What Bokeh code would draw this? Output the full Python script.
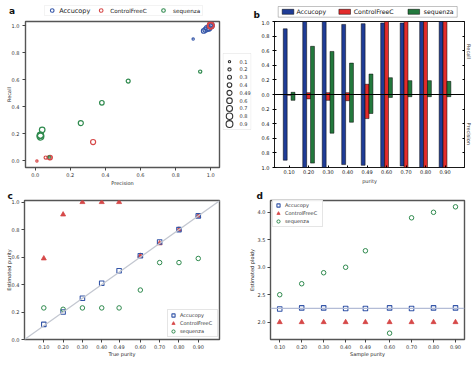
import math
from bokeh.plotting import figure
from bokeh.layouts import row, column
from bokeh.models import (ColumnDataSource, Range1d, FixedTicker, NumeralTickFormatter,
                          CustomJSTickFormatter, Legend, LegendItem, Label, Span, Slope,
                          LinearAxis, BoxAnnotation, Title)
from bokeh.embed import file_html
from bokeh.resources import INLINE
from bokeh.core.properties import value

# ---------------- data ----------------
purity = [0.10, 0.20, 0.30, 0.40, 0.49, 0.60, 0.70, 0.80, 0.90]
purity_labels = ["0.10", "0.20", "0.30", "0.40", "0.49", "0.60", "0.70", "0.80", "0.90"]
methods = ["Accucopy", "ControlFreeC", "sequenza"]

acc_recall = [0.90, 1.00, 1.00, 0.96, 0.97, 0.98, 0.98, 1.00, 1.00]
acc_precision = [0.90, 1.00, 1.00, 0.96, 0.97, 0.99, 0.98, 1.00, 1.00]
cfc_recall = [0.00, 0.025, 0.025, 0.025, 0.14, 1.00, 1.00, 1.00, 1.00]
cfc_precision = [0.01, 0.06, 0.08, 0.085, 0.33, 1.00, 1.00, 1.00, 1.00]
seq_recall = [0.03, 0.66, 0.59, 0.43, 0.28, 0.23, 0.19, 0.19, 0.18]
seq_precision = [0.08, 0.94, 0.53, 0.38, 0.26, 0.04, 0.03, 0.03, 0.03]

acc_est_purity = [0.11, 0.20, 0.30, 0.41, 0.50, 0.61, 0.71, 0.80, 0.90]
cfc_est_purity = [0.59, 0.91, 1.00, 1.00, 1.00, 0.61, 0.70, 0.80, 0.90]
seq_est_purity = [0.23, 0.22, 0.23, 0.23, 0.23, 0.36, 0.56, 0.56, 0.59]

acc_ploidy = [2.24, 2.26, 2.26, 2.25, 2.25, 2.26, 2.25, 2.26, 2.26]
cfc_ploidy = [2.0, 2.0, 2.0, 2.0, 2.0, 2.0, 2.0, 2.0, 2.0]
seq_ploidy = [2.50, 2.70, 2.90, 3.00, 3.30, 1.80, 3.90, 4.00, 4.10]
true_ploidy = 2.25

a_ticks = [0.0, 0.2, 0.4, 0.6, 0.8, 1.0]
b_yticks = [-1.0, -0.8, -0.6, -0.4, -0.2, 0.0, 0.2, 0.4, 0.6, 0.8, 1.0]
c_yticks = [0.0, 0.2, 0.4, 0.6, 0.8, 1.0]
d_yticks = [2.0, 2.5, 3.0, 3.5, 4.0]

# ---------------- style ----------------
FONT = "DejaVu Sans"
BLUE, RED, GREEN = "#3556a8", "#d64848", "#2f8a4e"
BAR_COLORS = ["#1f3c96", "#e32b2b", "#23793d"]
TICK_FS = "5px"
SIZE_K = 7.2
marker_size = [SIZE_K * math.sqrt(v) for v in purity]
NB = "\u00a0"

# legend layout in the top strip (pixels)
LEG_A_BOX = (44, 202, 5, 15)
LEG_A_KEY_X = [51.7, 100.7, 163.0]
LEG_A_TXT_X = [58.7, 109.7, 172.5]
LEG_A_Y = 10
LEG_A_FS = ["6.5px", "5.7px", "5.7px"]
LEG_B_BOX = (277.7, 456.7, 6, 16.7)
LEG_B_KEY_X = [287.5, 344.2, 413.3]
LEG_B_TXT_X = [296.0, 353.3, 423.3]
LEG_B_Y = 11.3


def base_fig(w, h, xr, yr, l, r, t, b, **kw):
    p = figure(width=w, height=h, x_range=xr, y_range=yr, title=None,
               output_backend="svg", toolbar_location=None, min_border=0,
               min_border_left=l, min_border_right=r, min_border_top=t, min_border_bottom=b, **kw)
    p.xgrid.visible = False
    p.ygrid.visible = False
    return p


def style_axes(p, color="#444"):
    for ax in p.axis:
        ax.axis_line_color = None
        ax.major_tick_line_color = color
        ax.major_tick_out = 3
        ax.major_tick_in = 0
        ax.minor_tick_line_color = None
        ax.major_label_text_font = FONT
        ax.major_label_text_font_size = TICK_FS
        ax.major_label_text_color = "#333"
        ax.major_label_standoff = 2
        ax.axis_label_text_font = FONT
        ax.axis_label_text_font_size = "5px"
        ax.axis_label_text_font_style = "normal"
        ax.axis_label_text_color = "#222"
    p.outline_line_color = "#555"
    p.outline_line_width = 1.4


def letter(p, text, x, y):
    p.add_layout(Label(x=x, y=y, text=text, text_font=FONT, text_font_size="9px",
                       text_font_style="bold", text_color="#111",
                       text_align="left", text_baseline="alphabetic"))


def letter_title(p, text, offset):
    p.add_layout(Title(text=text, align="left", offset=offset, standoff=0,
                       text_font=FONT, text_font_size="9px", text_font_style="bold",
                       text_color="#111"), "above")


# ---------------- top strip: panel letters a, b and top legends ----------------
st = base_fig(474, 20, Range1d(0, 474), Range1d(20, 0), 0, 0, 0, 0,
              x_axis_type=None, y_axis_type=None)
st.outline_line_color = None
letter(st, "a", 8.5, 10.8)
letter(st, "b", 253, 14)
for (l, r, t, b), col in [(LEG_A_BOX, "#cccccc"), (LEG_B_BOX, "black")]:
    st.add_layout(BoxAnnotation(left=l, right=r, top=t, bottom=b, fill_color=None,
                                line_color=col, line_width=0.8))
st.scatter(x=LEG_A_KEY_X, y=LEG_A_Y, size=3.6, marker="circle", fill_color=None,
           line_color=[BLUE, RED, GREEN], line_width=1.1)
st.text(x=LEG_A_TXT_X, y=LEG_A_Y, text=methods, text_font=value(FONT), text_font_size=LEG_A_FS,
        text_baseline="middle", text_align="left", text_color="#222")
st.rect(x=LEG_B_KEY_X, y=LEG_B_Y, width=11.6, height=5, fill_color=BAR_COLORS,
        line_color="black", line_width=0.5)
st.text(x=LEG_B_TXT_X, y=LEG_B_Y, text=methods, text_font=value(FONT), text_font_size="6.2px",
        text_baseline="middle", text_align="left", text_color="#111")

# ---------------- panel a ----------------
pa = base_fig(221, 168, Range1d(-0.055, 1.05), Range1d(-0.048, 1.03), 25, 2, 1, 18)
style_axes(pa)
pa.xaxis.ticker = FixedTicker(ticks=a_ticks)
pa.yaxis.ticker = FixedTicker(ticks=a_ticks)
pa.xaxis.formatter = NumeralTickFormatter(format="0.0")
pa.yaxis.formatter = NumeralTickFormatter(format="0.0")
pa.yaxis.major_label_standoff = 3
pa.yaxis.axis_label = "Recall"
pa.yaxis.axis_label_standoff = -3
pa.xaxis.axis_label = "Precision"
pa.xaxis.axis_label_standoff = 0

for name, prec, rec, col in zip(methods, [acc_precision, cfc_precision, seq_precision],
                                 [acc_recall, cfc_recall, seq_recall], [BLUE, RED, GREEN]):
    src = ColumnDataSource(dict(x=prec, y=rec, s=marker_size))
    pa.scatter(x="x", y="y", size="s", source=src, marker="circle",
               fill_color=None, line_color=col, line_width=1.2)

# ---------------- size legend for panel a ----------------
pl = base_fig(31, 168, Range1d(0, 29), Range1d(13.57, -5.15), 1, 1, 1, 18,
              x_axis_type=None, y_axis_type=None)
pl.outline_line_color = None
pl.add_layout(BoxAnnotation(left=0.5, right=28.5, top=114, bottom=38,
                            left_units="screen", right_units="screen",
                            top_units="screen", bottom_units="screen",
                            fill_color=None, line_color="#bbbbbb", line_width=0.8))
size_src = ColumnDataSource(dict(idx=list(range(len(purity))), s=marker_size,
                                 lab=[f"{v:g}" for v in purity]))
pl.scatter(x=7, y="idx", size="s", source=size_src, marker="circle",
           fill_color=None, line_color="#333", line_width=1.1)
pl.text(x=17, y="idx", text="lab", source=size_src, text_font=value(FONT),
        text_font_size="5px", text_baseline="middle", text_align="left", text_color="#333")

# ---------------- panel b ----------------
x_idx = list(range(len(purity)))
bar_w = 0.2
pb = base_fig(222, 168, Range1d(-0.75, 9.0), Range1d(-1, 1), 22, 9, 1, 18)
for k, (name, rec, prec, col) in enumerate(zip(methods, [acc_recall, cfc_recall, seq_recall],
                                               [acc_precision, cfc_precision, seq_precision],
                                               BAR_COLORS)):
    off = (k - 1) * bar_w
    src = ColumnDataSource(dict(x=[i + off for i in x_idx], top=rec, bottom=[-v for v in prec]))
    pb.vbar(x="x", width=bar_w, top="top", bottom="bottom", source=src,
            fill_color=col, line_color="black", line_width=0.5)
pb.add_layout(Span(location=0, dimension="width", line_color="black", line_width=1))

right_ax = LinearAxis(ticker=FixedTicker(ticks=b_yticks),
                      formatter=CustomJSTickFormatter(code="return '';"),
                      major_tick_in=2, major_tick_out=0, major_label_standoff=0,
                      axis_label="Recall" + NB * 40 + "Precision",
                      axis_label_standoff=1)
pb.add_layout(right_ax, "right")
for ax in pb.axis:
    ax.axis_line_color = None
    ax.major_tick_line_color = "black"
    ax.minor_tick_line_color = None
    ax.major_label_text_font = FONT
    ax.major_label_text_font_size = TICK_FS
    ax.major_label_text_color = "#111"
    ax.axis_label_text_font = FONT
    ax.axis_label_text_font_size = "5px"
    ax.axis_label_text_font_style = "normal"
    ax.axis_label_text_color = "#333"
pb.xaxis.ticker = FixedTicker(ticks=x_idx)
pb.xaxis.major_label_overrides = {i: lab for i, lab in zip(x_idx, purity_labels)}
pb.xaxis.major_tick_in = 2
pb.xaxis.major_tick_out = 0
pb.xaxis.major_label_standoff = 2
pb.xaxis.axis_label = "purity"
pb.xaxis.axis_label_standoff = 1
pb.yaxis[0].ticker = FixedTicker(ticks=b_yticks)
pb.yaxis[0].formatter = CustomJSTickFormatter(code="return Math.abs(tick).toFixed(1);")
pb.yaxis[0].major_tick_in = 2
pb.yaxis[0].major_tick_out = 2
pb.yaxis[0].major_label_standoff = 3
pb.outline_line_color = "black"
pb.outline_line_width = 0.9

# ---------------- panel c ----------------
pc = base_fig(233, 177, Range1d(0, 1.01), Range1d(0, 1.012), 24, 14, 10, 26)
style_axes(pc)
letter_title(pc, "c", -17)
pc.add_layout(Slope(gradient=1, y_intercept=0, line_color="#c3c7d0", line_width=1.2))
rc2 = pc.scatter(purity, cfc_est_purity, marker="triangle", size=5, fill_color=RED,
                 line_color=RED, line_width=0.8)
rc1 = pc.scatter(purity, acc_est_purity, marker="square", size=4.5, fill_color=None,
                 line_color=BLUE, line_width=1.1)
rc3 = pc.scatter(purity, seq_est_purity, marker="circle", size=4.5, fill_color=None,
                 line_color=GREEN, line_width=1)
pc.xaxis.ticker = FixedTicker(ticks=purity)
pc.xaxis.formatter = NumeralTickFormatter(format="0.00")
pc.yaxis.ticker = FixedTicker(ticks=c_yticks)
pc.yaxis.formatter = NumeralTickFormatter(format="0.0")
pc.yaxis.axis_label = "Estimated purity"
pc.yaxis.axis_label_standoff = -3
pc.xaxis.axis_label = "True purity"
pc.xaxis.axis_label_standoff = -1


def small_legend(items, loc):
    return Legend(items=items, location=loc, orientation="vertical",
                  label_text_font=FONT, label_text_font_size="5px", label_text_color="#333",
                  glyph_width=8, glyph_height=8, label_height=8, label_width=36,
                  padding=1, spacing=0, margin=0, label_standoff=3,
                  border_line_color="#cccccc", border_line_width=0.8, background_fill_alpha=0.9)


pc.add_layout(small_legend([LegendItem(label=methods[0], renderers=[rc1]),
                            LegendItem(label=methods[1], renderers=[rc2]),
                            LegendItem(label=methods[2], renderers=[rc3])], (143, 2)))

# ---------------- panel d ----------------
pd_ = base_fig(241, 177, Range1d(0.058, 0.941), Range1d(1.685, 4.215), 37, 10, 10, 26)
style_axes(pd_)
letter_title(pd_, "d", -14)
pd_.add_layout(Span(location=true_ploidy, dimension="width", line_color="#b3bcd6", line_width=1.2))
rd2 = pd_.scatter(purity, cfc_ploidy, marker="triangle", size=5, fill_color=RED,
                  line_color=RED, line_width=0.8)
rd1 = pd_.scatter(purity, acc_ploidy, marker="square", size=4.5, fill_color=None,
                  line_color=BLUE, line_width=1.1)
rd3 = pd_.scatter(purity, seq_ploidy, marker="circle", size=4.5, fill_color=None,
                  line_color=GREEN, line_width=1)
pd_.xaxis.ticker = FixedTicker(ticks=purity)
pd_.xaxis.formatter = NumeralTickFormatter(format="0.00")
pd_.yaxis.ticker = FixedTicker(ticks=d_yticks)
pd_.yaxis.formatter = NumeralTickFormatter(format="0.0")
pd_.yaxis.axis_label = "Estimated ploidy"
pd_.yaxis.axis_label_standoff = 0
pd_.xaxis.axis_label = "Sample purity"
pd_.xaxis.axis_label_standoff = -1
pd_.add_layout(small_legend([LegendItem(label=methods[0], renderers=[rd1]),
                             LegendItem(label=methods[1], renderers=[rd2]),
                             LegendItem(label=methods[2], renderers=[rd3])], (2, 112)))

layout = column(st, row(pa, pl, pb), row(pc, pd_))
open("out.html", "w").write(file_html(layout, INLINE))
